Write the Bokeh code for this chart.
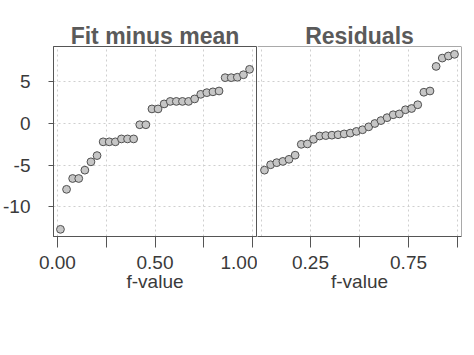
from bokeh.plotting import figure
from bokeh.layouts import row
from bokeh.models import FixedTicker, Range1d, Title, Span
from bokeh.embed import file_html
from bokeh.resources import INLINE

# ---- data ----
panel_titles = ["Fit minus mean", "Residuals"]
fit_minus_mean = [-12.7, -7.9, -6.6, -6.6, -5.6, -4.6, -3.85, -2.2, -2.2, -2.2,
                  -1.85, -1.85, -1.85, -0.15, -0.15, 1.75, 1.75, 2.35, 2.65, 2.65,
                  2.65, 2.65, 2.95, 3.5, 3.7, 3.8, 3.9, 5.5, 5.5, 5.55, 5.85, 6.5]
residuals = [-5.6, -4.95, -4.7, -4.55, -4.3, -3.8, -2.5, -2.45, -1.9, -1.5,
             -1.45, -1.4, -1.35, -1.25, -1.15, -0.95, -0.75, -0.4, 0.0, 0.35,
             0.7, 1.05, 1.15, 1.65, 1.8, 2.25, 3.75, 3.9, 6.85, 7.85, 8.1, 8.3]
# f-values: plotting positions (i - 0.5) / n of the sorted values
n = len(fit_minus_mean)
f_value = [(i + 0.5) / n for i in range(n)]

x_grid_ticks = [0.0, 0.25, 0.5, 0.75, 1.0]
left_x_ticks = [0.0, 0.25, 0.5, 0.75, 1.0]
left_x_labels = ["0.00", "", "0.50", "", "1.00"]
right_x_ticks = [0.25, 0.5, 0.75, 1.0]
right_x_labels = ["0.25", "", "0.75", ""]
y_ticks = [-10, -5, 0, 5]
y_labels = ["-10", "-5", "0", "5"]

FONT = "Liberation Sans"
FRAME = "#555555"
TXT = "#3a3a3a"

X_LO, X_HI = -0.02, 1.02
Y_LO, Y_HI = -13.56, 9.24
y_range = Range1d(Y_LO, Y_HI)


def make_panel(title, values, width, left, right, ticks, labels, with_y):
    p = figure(width=width, height=355, x_range=Range1d(X_LO, X_HI), y_range=y_range,
               output_backend="svg", toolbar_location=None,
               min_border_left=left, min_border_right=right,
               min_border_top=46, min_border_bottom=119,
               background_fill_color="white", border_fill_color="white",
               outline_line_color=FRAME if with_y else None, outline_line_width=1,
               x_axis_location="below", y_axis_location="left" if with_y else None)
    p.title = Title(text=title, align="center", text_font=FONT, text_font_size="23px",
                    text_font_style="bold", text_color="#5a5a5a", standoff=-5)
    # grid
    p.xgrid.ticker = FixedTicker(ticks=x_grid_ticks)
    p.ygrid.ticker = FixedTicker(ticks=y_ticks)
    for g in (p.xgrid, p.ygrid):
        g.grid_line_color = "#cfcfcf"
        g.grid_line_dash = "2 3"
        g.grid_line_width = 1
    # x axis
    xa = p.xaxis[0]
    xa.ticker = FixedTicker(ticks=ticks)
    xa.major_label_overrides = {t: lab for t, lab in zip(ticks, labels)}
    xa.axis_label = "f-value"
    xa.axis_label_text_font = FONT
    xa.axis_label_text_font_size = "19px"
    xa.axis_label_text_font_style = "normal"
    xa.axis_label_text_color = TXT
    xa.axis_label_standoff = -1
    xa.major_label_text_font = FONT
    xa.major_label_text_font_size = "19px"
    xa.major_label_text_color = TXT
    xa.major_label_standoff = 8
    xa.major_tick_out = 11
    xa.major_tick_in = 0
    xa.minor_tick_out = 0
    xa.minor_tick_in = 0
    xa.axis_line_color = FRAME
    xa.major_tick_line_color = FRAME
    if with_y:
        ya = p.yaxis[0]
        ya.ticker = FixedTicker(ticks=y_ticks)
        ya.major_label_overrides = {t: lab for t, lab in zip(y_ticks, y_labels)}
        ya.major_label_text_font = FONT
        ya.major_label_text_font_size = "19px"
        ya.major_label_text_color = TXT
        ya.major_label_standoff = 18
        ya.major_tick_out = 5
        ya.major_tick_in = 0
        ya.minor_tick_out = 0
        ya.minor_tick_in = 0
        ya.axis_line_color = FRAME
        ya.major_tick_line_color = FRAME
    else:
        # frame top and right edges (left edge is shared with the first panel)
        p.add_layout(Span(location=Y_HI, dimension="width", line_color=FRAME, line_width=1))
        p.add_layout(Span(location=X_HI, dimension="height", line_color=FRAME, line_width=1))
    p.scatter(f_value, values, size=7.8, fill_color="#c6c6c6",
              line_color="#505050", line_width=1)
    return p


p1 = make_panel(panel_titles[0], fit_minus_mean, 257, 51, 1,
                left_x_ticks, left_x_labels, True)
p2 = make_panel(panel_titles[1], residuals, 217, 0, 13,
                right_x_ticks, right_x_labels, False)

p = row(p1, p2, spacing=0)
open("out.html", "w").write(file_html(p, INLINE))
